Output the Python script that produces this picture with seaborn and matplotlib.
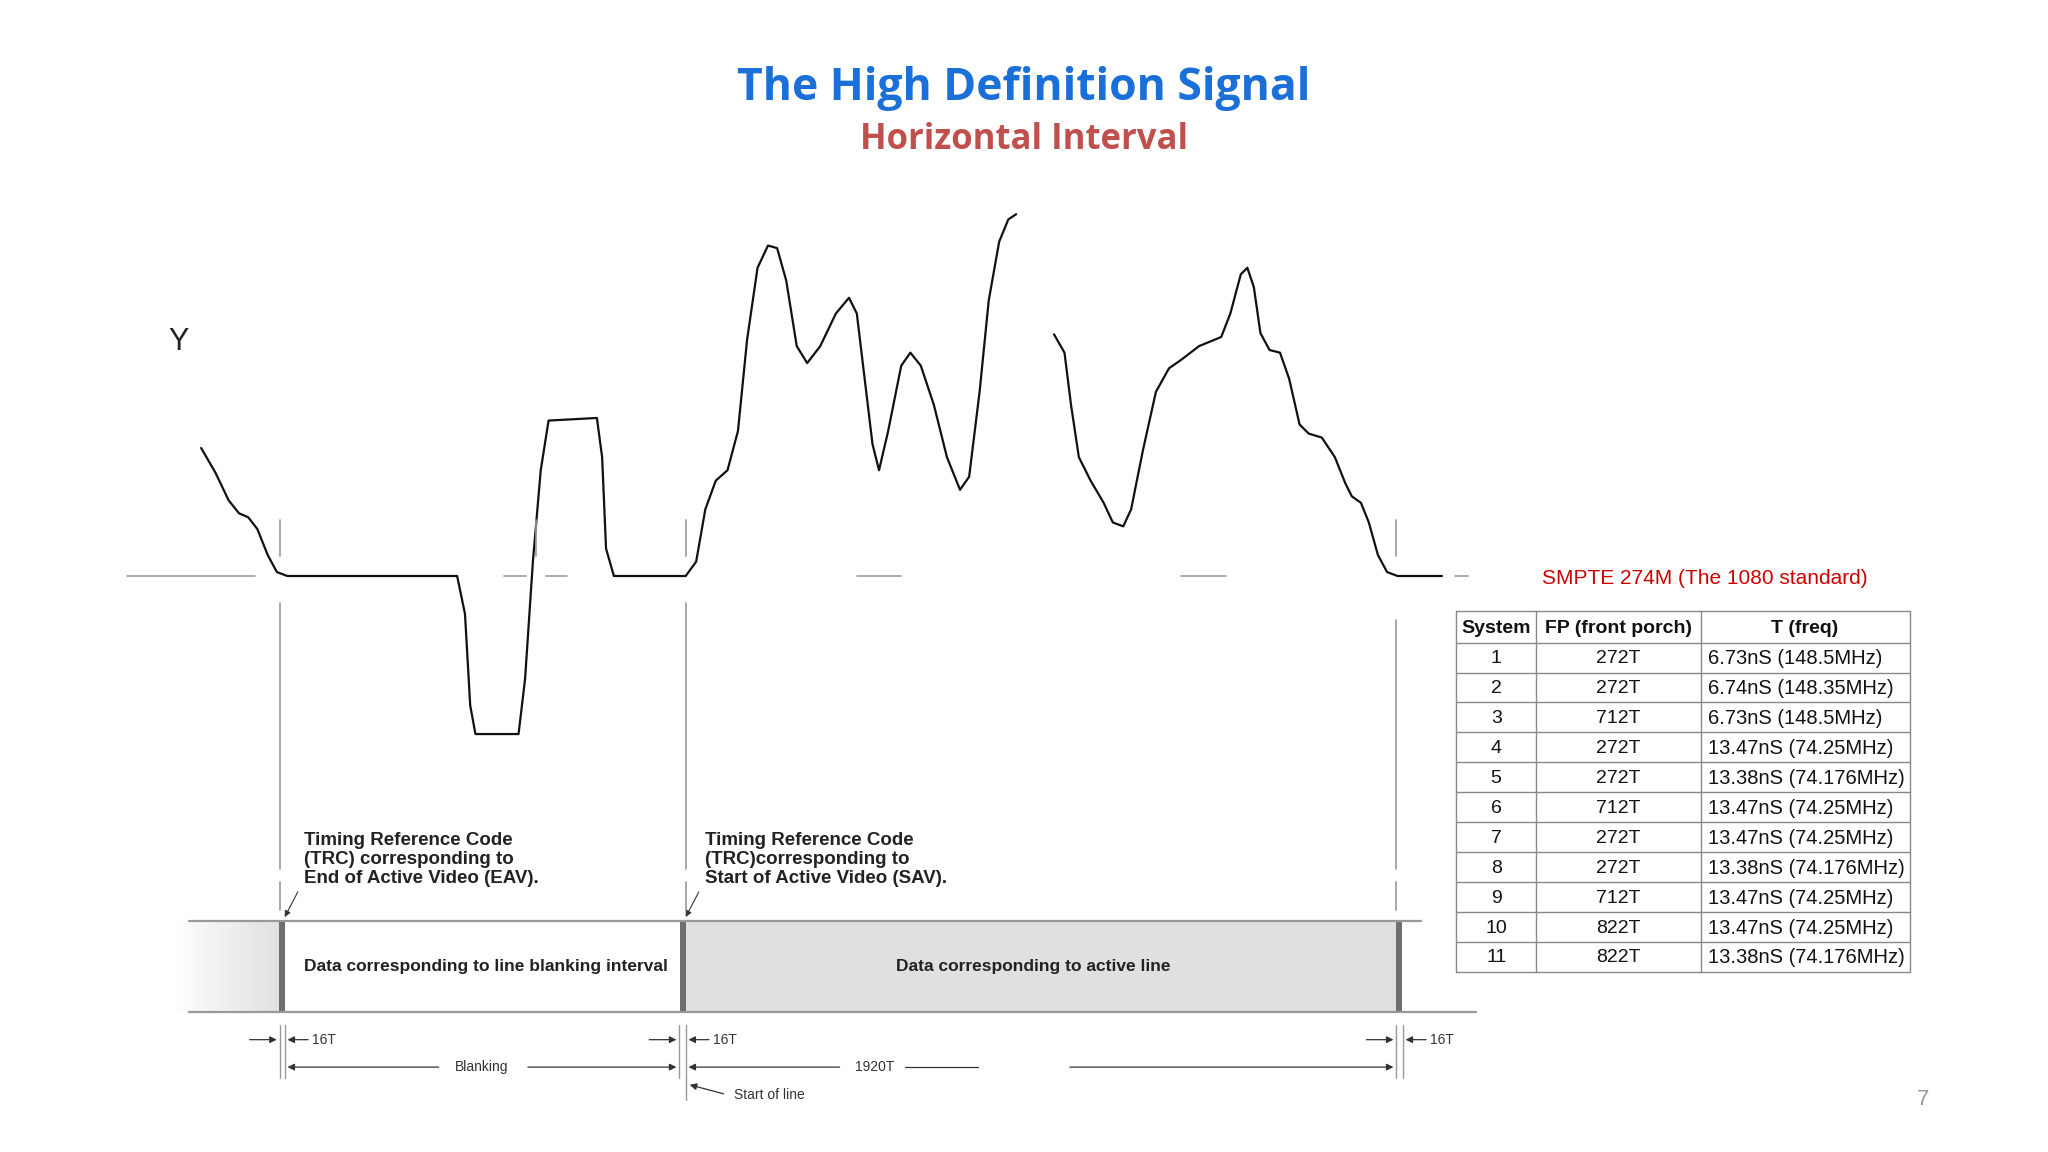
import numpy as np
import pandas as pd
import seaborn as sns
import matplotlib.pyplot as plt
from matplotlib.patches import Rectangle

sns.set_theme(style="white")
plt.rcParams['font.family'] = ['Liberation Sans', 'DejaVu Sans']

# Waveform (x, y in slide pixels, y downward)
wave1_x = [154, 165, 175, 183, 190, 197, 205, 212, 220, 350, 356, 360, 364, 397, 402, 408, 414, 420, 457, 461, 464, 470,
           525, 533, 540, 548, 557, 565, 572, 580, 588, 595, 602, 610, 618, 628, 640, 650, 656, 662, 668, 673, 680, 690,
           697, 705, 715, 725, 735, 742, 750, 757, 765, 772, 778]
wave1_y = [343, 362, 383, 393, 396, 405, 425, 438, 441, 441, 470, 540, 562, 562, 520, 430, 360, 322, 320, 350, 420, 441,
           441, 430, 390, 368, 360, 330, 260, 205, 188, 190, 215, 265, 278, 265, 240, 228, 240, 290, 340, 360, 330, 280,
           270, 280, 310, 350, 375, 365, 300, 230, 185, 168, 164]
wave2_x = [807, 815, 820, 826, 835, 845, 852, 860, 866, 875, 885, 895, 905, 918, 935, 942, 950, 955, 960, 965, 972, 980,
           987, 995, 1002, 1012, 1022, 1030, 1035, 1042, 1048, 1055, 1062, 1070, 1104]
wave2_y = [256, 270, 310, 350, 368, 385, 400, 403, 390, 345, 300, 282, 275, 265, 258, 240, 210, 205, 220, 255, 268, 270,
           290, 325, 332, 335, 350, 370, 380, 385, 400, 425, 438, 441, 441]

table_header = ["System", "FP (front porch)", "T (freq)"]
systems = [str(i) for i in range(1, 12)]
front_porch = ["272T", "272T", "712T", "272T", "272T", "712T", "272T", "272T", "712T", "822T", "822T"]
t_freq = ["6.73nS (148.5MHz)", "6.74nS (148.35MHz)", "6.73nS (148.5MHz)", "13.47nS (74.25MHz)",
          "13.38nS (74.176MHz)", "13.47nS (74.25MHz)", "13.47nS (74.25MHz)", "13.38nS (74.176MHz)",
          "13.47nS (74.25MHz)", "13.47nS (74.25MHz)", "13.38nS (74.176MHz)"]

fig = plt.figure(figsize=(20.48, 11.52), dpi=100)
ax = fig.add_axes([0, 0, 1, 1])
ax.set_xlim(0, 1568)
ax.set_ylim(882, 0)
ax.axis("off")

# titles
ax.text(784, 68, "The High Definition Signal", ha="center", va="center", fontsize=32, fontweight="bold",
        color="#1a6fd8", family=["Open Sans", "DejaVu Sans"])
ax.text(784, 107, "Horizontal Interval", ha="center", va="center", fontsize=25, fontweight="bold",
        color="#c0504d", family=["Open Sans", "DejaVu Sans"])
ax.text(137, 262, "Y", ha="center", va="center", fontsize=22, color="#222222")

# waveform
w = pd.DataFrame({"x": wave1_x + wave2_x, "y": wave1_y + wave2_y,
                  "seg": ["a"] * len(wave1_x) + ["b"] * len(wave2_x)})
sns.lineplot(data=w, x="x", y="y", units="seg", estimator=None, sort=False, color="#111111", lw=1.6, ax=ax)

gray = "#999999"
for x0, x1 in [(97, 195), (386, 403), (418, 434), (656, 690), (904, 939), (1114, 1124)]:
    ax.plot([x0, x1], [441, 441], color=gray, lw=1.2)
for x in [214, 410, 525, 1069]:
    ax.plot([x, x], [398, 426], color=gray, lw=1.2)
for x, y0 in [(214, 462), (525, 462), (1069, 475)]:
    ax.plot([x, x], [y0, 665], color=gray, lw=1.2)
    ax.plot([x, x], [675, 697], color=gray, lw=1.2)

# data band
for i in range(40):
    ax.add_patch(Rectangle((130 + i * 2.1, 706), 2.2, 69, color=str(1.0 - 0.12 * i / 40), lw=0))
ax.add_patch(Rectangle((525, 706), 546, 69, color="#e0e0e3", lw=0))
ax.plot([145, 1088], [705, 705], color=gray, lw=1.6)
ax.plot([145, 1130], [775, 775], color=gray, lw=1.6)
for x in [216, 523, 1071]:
    ax.add_patch(Rectangle((x - 2.5, 705), 5, 70, color="#6e6e6e", lw=0))
ax.text(372, 740, "Data corresponding to line blanking interval", ha="center", va="center",
        fontsize=12.5, fontweight="bold", color="#222222")
ax.text(791, 740, "Data corresponding to active line", ha="center", va="center",
        fontsize=12.5, fontweight="bold", color="#222222")

ax.text(233, 658, "Timing Reference Code\n(TRC) corresponding to\nEnd of Active Video (EAV).", ha="left",
        va="center", fontsize=13.5, fontweight="bold", color="#222222", linespacing=1.15)
ax.text(540, 658, "Timing Reference Code\n(TRC)corresponding to\nStart of Active Video (SAV).", ha="left",
        va="center", fontsize=13.5, fontweight="bold", color="#222222", linespacing=1.15)
for x in [217, 524]:
    ax.annotate("", xy=(x, 704), xytext=(x + 12, 681),
                arrowprops=dict(arrowstyle="-|>", color="#333333", lw=0.8, mutation_scale=9))

# timing marks below
for x in [214, 218, 520, 525, 1069, 1074]:
    ax.plot([x, x], [785, 825], color=gray, lw=1.0)
ax.plot([525, 525], [825, 842], color=gray, lw=1.0)
ap = dict(arrowstyle="-|>", color="#333333", lw=0.9, mutation_scale=10)
for xl, xr in [(214, 218), (520, 525), (1069, 1074)]:
    ax.annotate("", xy=(xl, 796), xytext=(xl - 25, 796), arrowprops=ap)
    ax.annotate("", xy=(xr, 796), xytext=(xr + 20, 796), arrowprops=ap)
    ax.text(xr + 21, 796, "16T", ha="left", va="center", fontsize=10, color="#333333")
ax.annotate("", xy=(218, 817), xytext=(338, 817), arrowprops=ap)
ax.annotate("", xy=(520, 817), xytext=(402, 817), arrowprops=ap)
ax.text(369, 817, "Blanking", ha="center", va="center", fontsize=10, color="#333333")
ax.annotate("", xy=(525, 817), xytext=(645, 817), arrowprops=ap)
ax.plot([693, 749], [817, 817], color="#333333", lw=0.9)
ax.annotate("", xy=(1069, 817), xytext=(817, 817), arrowprops=ap)
ax.text(670, 817, "1920T", ha="center", va="center", fontsize=10, color="#333333")
ax.annotate("", xy=(526, 830), xytext=(556, 838), arrowprops=ap)
ax.text(562, 838, "Start of line", ha="left", va="center", fontsize=10, color="#333333")

# table
ax.text(1305, 443, "SMPTE 274M (The 1080 standard)", ha="center", va="center", fontsize=15, color="#cc0000")
cols = [1115, 1176, 1302, 1462]
top, hh, rh = 468, 24, 22.9
nrows = len(systems)
bottom = top + hh + nrows * rh
for x in cols:
    ax.plot([x, x], [top, bottom], color="#888888", lw=1.0)
ax.plot([cols[0], cols[-1]], [top, top], color="#888888", lw=1.0)
for i in range(nrows + 1):
    y = top + hh + i * rh
    ax.plot([cols[0], cols[-1]], [y, y], color="#888888", lw=1.0)
centers = [(cols[0] + cols[1]) / 2, (cols[1] + cols[2]) / 2, (cols[2] + cols[3]) / 2]
for c, h in zip(centers, table_header):
    ax.text(c, top + hh / 2 + 1, h, ha="center", va="center", fontsize=14, fontweight="bold", color="#111111")
for i in range(nrows):
    y = top + hh + (i + 0.5) * rh + 1
    ax.text(centers[0], y, systems[i], ha="center", va="center", fontsize=14, color="#111111")
    ax.text(centers[1], y, front_porch[i], ha="center", va="center", fontsize=14, color="#111111")
    ax.text(cols[2] + 6, y, t_freq[i], ha="left", va="center", fontsize=14.5, color="#111111")

ax.text(1472, 842, "7", ha="center", va="center", fontsize=16, color="#999999")

fig.savefig("out.png", dpi=100)
